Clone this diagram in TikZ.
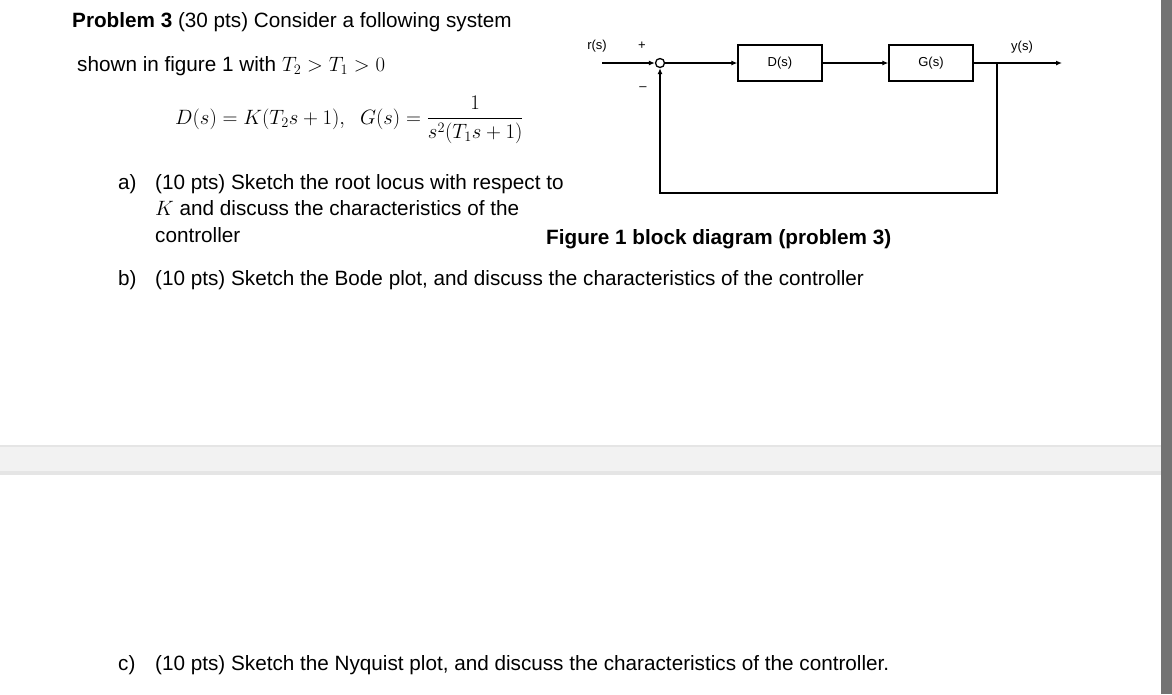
\documentclass[tikz,border=0pt]{standalone}
\usepackage{amsmath}
\usepackage{fontspec}
\setmainfont{Liberation Sans}
\usetikzlibrary{arrows.meta}
\begin{document}
\begin{tikzpicture}[x=1pt,y=-1pt,
  txt/.style={anchor=base west,inner sep=0pt,font=\fontsize{20.7}{24}\selectfont},
  small/.style={inner sep=0pt,font=\fontsize{13}{15}\selectfont},
  blk/.style={draw,line width=1.3pt,minimum width=84pt,minimum height=36pt,inner sep=0pt,font=\fontsize{13}{15}\selectfont},
  sig/.style={line width=1.3pt,-{Latex[length=6pt,width=5pt]}},
  ln/.style={line width=1.3pt}]
\useasboundingbox (0,0) rectangle (1172,694);
\fill[white] (0,0) rectangle (1172,694);
\fill[black!10!white] (0,445) rectangle (1161,475);
\fill[black!5!white] (0,447) rectangle (1161,471);
\fill[black!55] (1161,0) rectangle (1172,694);
\node[txt] (t1) at (72,27) {\textbf{Problem 3} (30 pts) Consider a following system};
\node[txt] (t2) at (77,71) {shown in figure 1 with $T_2>T_1>0$};
\node[txt] (eq) at (175,124) {$D(s)=K(T_2s+1),\ \ G(s)=\dfrac{1}{s^2(T_1s+1)}$};
\node[txt] (a) at (118,189) {a)};
\node[txt] (a1) at (155,189) {(10 pts) Sketch the root locus with respect to};
\node[txt] (a2) at (155,215) {$K$ and discuss the characteristics of the};
\node[txt] (a3) at (155,242) {controller};
\node[txt] (cap) at (546,244) {\textbf{Figure 1 block diagram (problem 3)}};
\node[txt] (b) at (118,285) {b)};
\node[txt] (b1) at (155,285) {(10 pts) Sketch the Bode plot, and discuss the characteristics of the controller};
\node[txt] (c) at (118,670) {c)};
\node[txt] (c1) at (155,670) {(10 pts) Sketch the Nyquist plot, and discuss the characteristics of the controller.};
% block diagram
\coordinate (in) at (602,63);
\node[draw,circle,line width=1.3pt,minimum size=9pt,inner sep=0pt] (sum) at (660,63) {};
\node[blk] (D) at (780,63) {D(s)};
\node[blk] (G) at (931,63) {G(s)};
\coordinate (br) at (997,63);
\coordinate (out) at (1062,63);
\coordinate (fb1) at (997,193);
\coordinate (fb2) at (660,193);
\draw[sig] (in) -- (sum);
\draw[sig] (sum) -- (D);
\draw[sig] (D) -- (G);
\draw[ln] (G) -- (br);
\draw[sig] (br) -- (out);
\draw[sig] (br) -- (fb1) -- (fb2) -- (sum);
\node[small] (rl) at (597,46) {r(s)};
\node[small] (yl) at (1022,47) {y(s)};
\node[small] (pl) at (642,46) {+};
\node[small] (ml) at (643,89) {–};
\end{tikzpicture}
\end{document}
